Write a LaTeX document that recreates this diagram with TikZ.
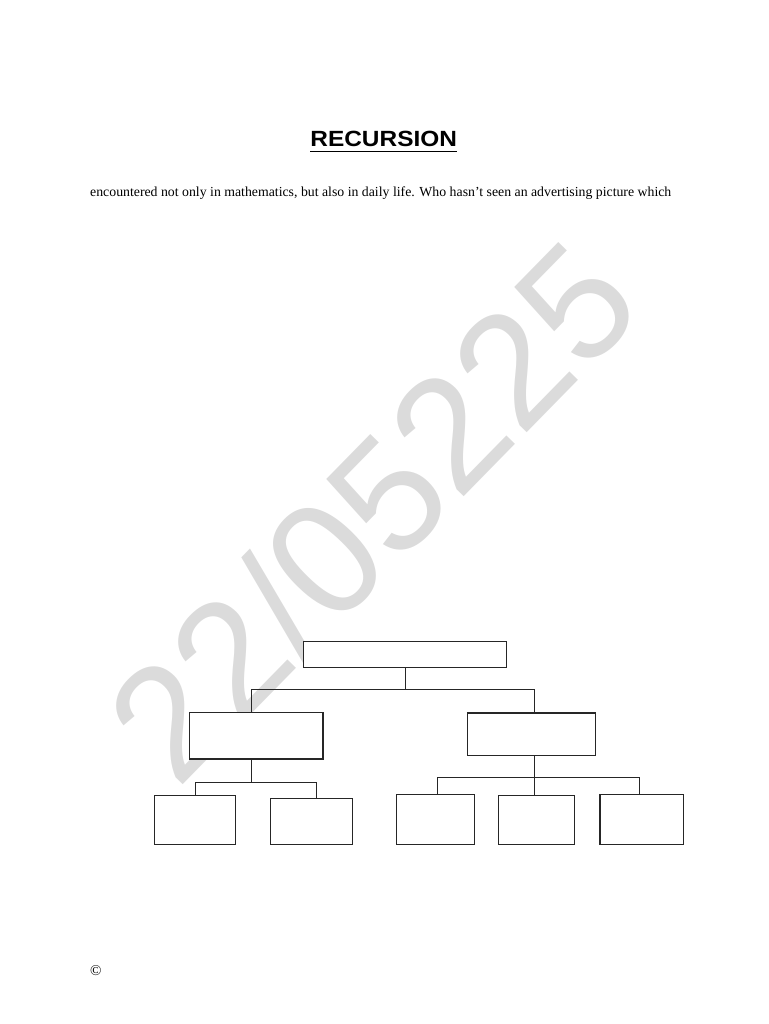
\documentclass[tikz,border=0pt]{standalone}
\usepackage{fontspec}
\setmainfont{Liberation Serif}
\newfontfamily\titelschrift{Liberation Sans}
\newfontfamily\stempelschrift{Liberation Sans}
\usepackage{xcolor}
\usepackage{tikz}
\definecolor{stempelgrau}{gray}{0.86}
\definecolor{strich}{gray}{0.15}
\tikzset{
  Kasten/.style 2 args={draw=strich, line width=0.9pt, fill=white, inner sep=0pt,
    minimum width=#1, minimum height=#2}, % für Kästen
  Linie/.style={draw=strich, line width=0.9pt}, % für Verbindungen
  Kante/.style={strich, line width=1.8pt}, % für dicke Kanten
  Wasserzeichen/.style={text=stempelgrau, inner sep=0pt,
    font=\stempelschrift\fontsize{161}{161}\selectfont}
}

\begin{document}
\begin{tikzpicture}[x=1pt, y=-1pt,
font=\fontsize{13.8}{16}\selectfont
]
\useasboundingbox (0,0) rectangle (768,1024);

%Ueberschrift und Text
\node[inner sep=0pt, anchor=base, xscale=1.11,
  font=\titelschrift\bfseries\fontsize{22}{24}\selectfont] (Titel) at (383.7,146.7) {RECURSION};
\draw[line width=1.4pt] ([yshift=-5pt]Titel.base west) -- ([yshift=-5pt]Titel.base east);
\node[inner sep=0pt, anchor=base west] (Text) at (90,196.7)
  {encountered not only in mathematics, but also in daily life. Who hasn’t seen an advertising picture which};
\node[inner sep=0pt, anchor=base west, font=\fontsize{15}{16}\selectfont] (Copy) at (90,975) {©};

%Wasserzeichen
\node[Wasserzeichen, rotate=45.6, anchor=base west] (WZ) at (177,790.5) {22/05225};

%Kaesten
\node[Kasten={203pt}{25.5pt}] (Wurzel) at (405,654.5) {};
\node[Kasten={133pt}{45.6pt}] (Ast1) at (255.8,735.5) {};
\node[Kasten={128.4pt}{42.4pt}] (Ast2) at (531.5,734.5) {};
\node[Kasten={81.7pt}{48.6pt}] (Blatt1) at (194.85,820) {};
\node[Kasten={82pt}{45.6pt}] (Blatt2) at (311.7,821.5) {};
\node[Kasten={77.6pt}{49.6pt}] (Blatt3) at (435.5,819.5) {};
\node[Kasten={76pt}{48.6pt}] (Blatt4) at (536.3,820) {};
\node[Kasten={83.3pt}{50pt}] (Blatt5) at (641.65,819.3) {};

%dicke Kanten
\draw[Kante] (Ast1.north east) -- (Ast1.south east) -- (Ast1.south west);
\draw[Kante] (Ast2.north west) -- (Ast2.north east);
\draw[Kante] (Blatt5.north west) -- (Blatt5.south west);

%Verzweigungen
\coordinate (S0) at (405,689.3);
\coordinate (SL) at (251,689.3);
\coordinate (SR) at (534.7,689.3);
\coordinate (UL) at (251.3,782.3);
\coordinate (UL1) at (195.3,782.3);
\coordinate (UL2) at (316.7,782.3);
\coordinate (UR) at (534.7,777.7);
\coordinate (UR1) at (437.3,777.7);
\coordinate (UR3) at (639,777.7);

%Verbindungen
\draw[Linie] (Wurzel.south) -- (S0);
\draw[Linie] (Ast1.north -| SL) -- (SL) -- (SR) -- (Ast2.north -| SR);
\draw[Linie] (Ast1.south -| UL) -- (UL);
\draw[Linie] (Blatt1.north -| UL1) -- (UL1) -- (UL2) -- (Blatt2.north -| UL2);
\draw[Linie] (Ast2.south -| UR) -- (Blatt4.north -| UR);
\draw[Linie] (Blatt3.north -| UR1) -- (UR1) -- (UR3) -- (Blatt5.north -| UR3);

\end{tikzpicture}
\end{document}
